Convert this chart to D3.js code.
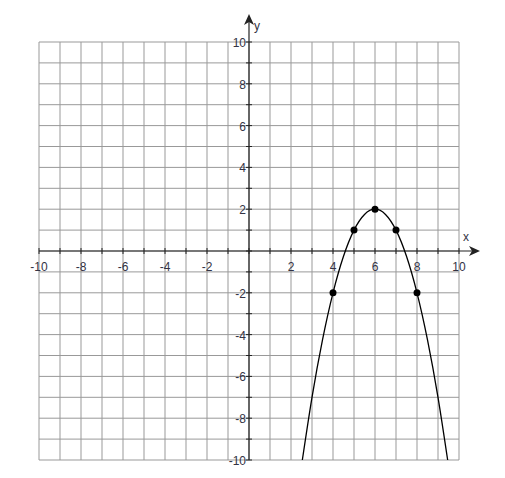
<!DOCTYPE html>
<html><head><meta charset="utf-8">
<script src="https://cdn.jsdelivr.net/npm/d3@7"></script>
<style>body{margin:0;background:#fff}</style></head>
<body><svg id="c" width="505" height="478"></svg>
<script>
var ticks = [-10, -8, -6, -4, -2, 2, 4, 6, 8, 10];
var dotX = [4, 5, 6, 7, 8];
var dotY = [-2, 1, 2, 1, -2];
// points
var curveX = [2.54, 3, 3.5, 4, 4.5, 5, 5.5, 6, 6.5, 7, 7.5, 8, 8.5, 9, 9.46];
var curveY = [-10, -7, -4.25, -2, -0.25, 1, 1.75, 2, 1.75, 1, -0.25, -2, -4.25, -7, -10];

var svg = d3.select("#c");
var x = d3.scaleLinear().domain([-10, 10]).range([39, 459]);
var y = d3.scaleLinear().domain([-10, 10]).range([460, 42]);
var font = "Arial, 'Liberation Sans', sans-serif";

var grid = d3.range(-10, 11);
svg.selectAll(".gx").data(grid).enter().append("line")
  .attr("x1", d => x(d)).attr("x2", d => x(d))
  .attr("y1", y(10)).attr("y2", y(-10))
  .attr("stroke", "#999").attr("stroke-width", 1);
svg.selectAll(".gy").data(grid).enter().append("line")
  .attr("y1", d => y(d)).attr("y2", d => y(d))
  .attr("x1", x(-10)).attr("x2", x(10))
  .attr("stroke", "#999").attr("stroke-width", 1);

// axes
svg.append("line").attr("x1", x(-10)).attr("x2", 474).attr("y1", y(0)).attr("y2", y(0))
  .attr("stroke", "#222").attr("stroke-width", 1.2);
svg.append("path").attr("d", "M480," + y(0) + "l-11,-5l3,5l-3,5z").attr("fill", "#222");
svg.append("line").attr("x1", x(0)).attr("x2", x(0)).attr("y1", y(-10)).attr("y2", 20)
  .attr("stroke", "#222").attr("stroke-width", 1.2);
svg.append("path").attr("d", "M" + x(0) + ",14l-5,11l5,-3l5,3z").attr("fill", "#222");

svg.selectAll(".tx").data(grid).enter().append("line")
  .attr("x1", d => x(d)).attr("x2", d => x(d)).attr("y1", y(0) - 3).attr("y2", y(0) + 3)
  .attr("stroke", "#222");
svg.selectAll(".ty").data(grid).enter().append("line")
  .attr("y1", d => y(d)).attr("y2", d => y(d)).attr("x1", x(0) - 3).attr("x2", x(0) + 3)
  .attr("stroke", "#222");

svg.selectAll(".lx").data(ticks).enter().append("text")
  .attr("x", d => x(d)).attr("y", y(0) + 20).attr("text-anchor", "middle")
  .attr("font-family", font).attr("font-size", 12).attr("fill", "#334").text(d => d);
svg.selectAll(".ly").data(ticks).enter().append("text")
  .attr("x", x(0) - 3).attr("y", d => y(d) + 5).attr("text-anchor", "end")
  .attr("font-family", font).attr("font-size", 12).attr("fill", "#334").text(d => d);
svg.append("text").attr("x", 463).attr("y", 241).attr("font-family", font).attr("font-size", 12).attr("fill", "#334").text("x");
svg.append("text").attr("x", 254).attr("y", 30).attr("font-family", font).attr("font-size", 12).attr("fill", "#334").text("y");

var line = d3.line().x(d => x(d[0])).y(d => y(d[1])).curve(d3.curveNatural);
svg.append("path").datum(d3.zip(curveX, curveY)).attr("d", line)
  .attr("fill", "none").attr("stroke", "#000").attr("stroke-width", 1.3);

svg.selectAll(".dot").data(d3.zip(dotX, dotY)).enter().append("circle")
  .attr("cx", d => x(d[0])).attr("cy", d => y(d[1])).attr("r", 3.5).attr("fill", "#000");
</script></body></html>
